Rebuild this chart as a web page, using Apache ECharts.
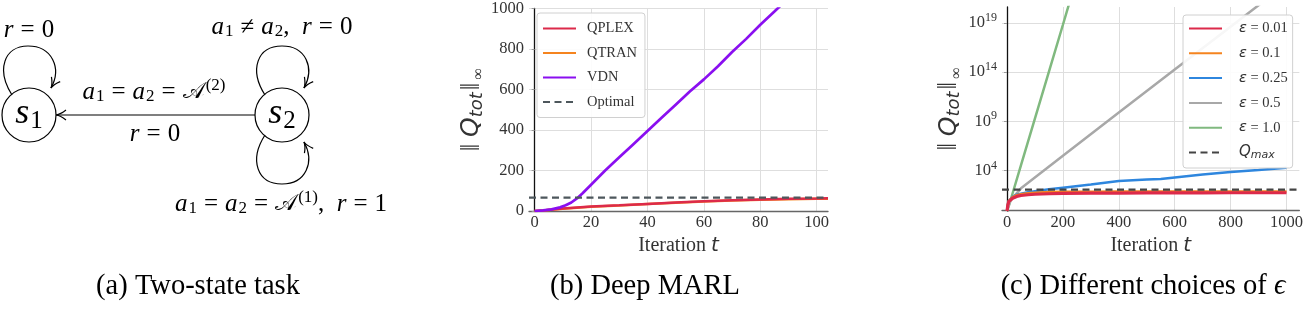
<!DOCTYPE html>
<html>
<head>
<meta charset="utf-8">
<script src="https://cdn.jsdelivr.net/npm/echarts@6/dist/echarts.min.js"></script>
<style>
  html, body { margin: 0; padding: 0; background: #fff; }
  #chart { width: 1306px; height: 310px; }
</style>
</head>
<body>
<div id="chart"></div>
<script>
// (b) Deep MARL
const vdnT = [0, 3, 6, 9, 11, 13, 15, 17, 20, 25, 30, 35, 40, 45, 50, 55, 60, 65, 70, 75, 80, 85, 88];
const vdnQ = [0, 3, 8, 18, 28, 42, 62, 88, 130, 200, 265, 330, 395, 460, 525, 590, 650, 715, 785, 850, 920, 985, 1025];
const marlT = [0, 3, 6, 10, 15, 20, 30, 40, 50, 60, 70, 80, 90, 100, 104];
const qplexQ = [0, 3, 7, 12, 17, 22, 28, 35, 42, 48, 53, 57, 60, 62, 63];
const qtranQ = [0, 3, 6, 11, 16, 21, 27, 34, 41, 47, 52, 55, 58, 60, 60];
const optimalQ = 66;
const marlTicks = [0, 20, 40, 60, 80, 100];

// (c) Different choices of epsilon, values as log10 of ||Q_tot||
const epsT = [0, 3, 6, 10, 20, 35, 50, 75, 100, 150, 200, 300, 400, 500, 550, 600, 700, 800, 900, 1000];
const eps001Log = [-0.1, 0.5, 0.85, 1.0, 1.2, 1.38, 1.47, 1.55, 1.6, 1.65, 1.68, 1.71, 1.72, 1.73, 1.73, 1.74, 1.74, 1.75, 1.75, 1.75];
const eps01Log = [-0.1, 0.55, 0.9, 1.05, 1.3, 1.5, 1.6, 1.7, 1.75, 1.82, 1.85, 1.86, 1.87, 1.87, 1.87, 1.88, 1.88, 1.88, 1.88, 1.88];
const eps025Log = [-0.1, 0.55, 0.9, 1.05, 1.35, 1.55, 1.65, 1.8, 1.9, 2.1, 2.27, 2.6, 2.95, 3.1, 3.15, 3.3, 3.6, 3.85, 4.05, 4.3];
const eps05T = [0, 12, 50, 200, 400, 600, 800, 1000];
const eps05Log = [-0.1, 0.95, 2.2, 5.5, 9.9, 14.25, 18.6, 22.95];
const eps1T = [0, 12, 50, 100, 150, 200, 250];
const eps1Log = [-0.1, 0.94, 4.55, 9.3, 14.05, 18.8, 23.6];
const qmaxLog = 2.06;
const epsTicks = [0, 200, 400, 600, 800, 1000];
const logTicks = [4, 9, 14, 19];

const zip = (xs, ys) => xs.map((x, i) => [x, ys[i]]);

const serif = "'Liberation Serif', 'DejaVu Serif', serif";
const mathSans = "'DejaVu Sans', sans-serif";

const gridColor = '#dedede';
const labelColor = '#333';

function lineSeries(name, xi, data, color, width, extra) {
  return Object.assign({
    name: name,
    type: 'line',
    xAxisIndex: xi,
    yAxisIndex: xi,
    data: data,
    symbol: 'none',
    smooth: false,
    lineStyle: { color: color, width: width },
    itemStyle: { color: color },
    emphasis: { disabled: true },
    silent: true
  }, extra || {});
}

const axisNameRich = {
  bar: { fontFamily: serif, fontSize: 27, color: labelColor },
  q: { fontFamily: mathSans, fontStyle: 'italic', fontSize: 25, color: labelColor },
  s: { fontFamily: mathSans, fontStyle: 'italic', fontSize: 18, color: labelColor, padding: [11, 2, 0, 0] },
  inf: { fontFamily: serif, fontSize: 16, color: labelColor, padding: [15, 0, 0, 3] }
};
const qNorm = '{bar|‖ }{q|Q}{s|tot}{bar|‖}{inf|∞}';

const iterRich = {
  n: { fontFamily: serif, fontSize: 20, color: labelColor },
  t: { fontFamily: mathSans, fontStyle: 'italic', fontSize: 20, color: labelColor }
};

function xAxisCfg(gi, min, max, ticks) {
  return {
    gridIndex: gi, type: 'value', min: min, max: max,
    name: '{n|Iteration }{t|t}', nameLocation: 'middle', nameGap: 19,
    nameTextStyle: { rich: iterRich },
    axisLine: { show: true, lineStyle: { color: '#666', width: 1.3 } },
    axisTick: { show: false, customValues: ticks },
    axisLabel: { customValues: ticks, margin: 3, formatter: v => String(v),
      fontFamily: serif, fontSize: 16.5, color: labelColor },
    splitLine: { show: true, lineStyle: { color: gridColor, width: 1 } }
  };
}

// diagram helpers
const ink = { stroke: '#000', fill: null, lineWidth: 1.2 };
function arrowHead(tx, ty, dx, dy) {
  const L = Math.hypot(dx, dy); dx /= L; dy /= L;
  const px = -dy, py = dx, a = 10, w = 5;
  const arm = s => ({
    type: 'bezierCurve', silent: true,
    shape: {
      x1: tx - a * dx + s * w * px, y1: ty - a * dy + s * w * py,
      cpx1: tx - 0.45 * a * dx + s * 0.12 * w * px, cpy1: ty - 0.45 * a * dy + s * 0.12 * w * py,
      x2: tx, y2: ty
    },
    style: ink
  });
  return [arm(1), arm(-1)];
}
function loop(pts) {
  // two cubic segments: p0 c1 c2 p1 c3 c4 p2
  return [
    { type: 'bezierCurve', silent: true, style: ink,
      shape: { x1: pts[0][0], y1: pts[0][1], cpx1: pts[1][0], cpy1: pts[1][1], cpx2: pts[2][0], cpy2: pts[2][1], x2: pts[3][0], y2: pts[3][1] } },
    { type: 'bezierCurve', silent: true, style: ink,
      shape: { x1: pts[3][0], y1: pts[3][1], cpx1: pts[4][0], cpy1: pts[4][1], cpx2: pts[5][0], cpy2: pts[5][1], x2: pts[6][0], y2: pts[6][1] } }
  ];
}
const mathRich = {
  it: { fontFamily: serif, fontStyle: 'italic', fontSize: 25, color: '#000' },
  rm: { fontFamily: serif, fontSize: 25, color: '#000' },
  eq: { fontFamily: serif, fontSize: 25, color: '#000', padding: [0, 7, 0, 7] },
  sub: { fontFamily: serif, fontSize: 17, color: '#000', padding: [10, 0, 0, 1] },
  sup: { fontFamily: serif, fontSize: 17, color: '#000', padding: [0, 0, 13, 1] },
  cal: { fontFamily: "'DejaVu Serif', 'DejaVu Sans', serif", fontSize: 23, color: '#000' },
  big: { fontFamily: serif, fontStyle: 'italic', fontSize: 36, color: '#000' },
  bigsub: { fontFamily: serif, fontSize: 25, color: '#000', padding: [14, 0, 0, 1] }
};
function mathText(x, y, text) {
  return {
    type: 'text', x: x, y: y, silent: true,
    style: { text: text, rich: mathRich, align: 'center', verticalAlign: 'middle' }
  };
}
function caption(x, text) {
  return {
    type: 'text', x: x, y: 287, silent: true,
    style: { text: text, rich: { e: { fontFamily: serif, fontStyle: 'italic', fontSize: 28.5, color: '#000' } },
      fontFamily: serif, fontSize: 28.5, fill: '#000', align: 'center', verticalAlign: 'middle' }
  };
}

const diagram = [
  { type: 'circle', silent: true, shape: { cx: 29, cy: 115, r: 27 }, style: ink },
  { type: 'circle', silent: true, shape: { cx: 282, cy: 115, r: 27 }, style: ink },
  mathText(29, 114, '{big|s}{bigsub|1}'),
  mathText(282, 114, '{big|s}{bigsub|2}'),
  { type: 'line', silent: true, shape: { x1: 255, y1: 115, x2: 57, y2: 115 }, style: ink },
  ...arrowHead(56, 115, -1, 0),
  ...loop([[12, 95], [-4, 70], [4, 46], [28, 46], [52, 46], [62, 68], [51, 88]]),
  ...arrowHead(51, 88, -11, 20),
  ...loop([[265, 95], [249, 70], [257, 46], [282, 46], [306, 46], [315, 68], [304, 88]]),
  ...arrowHead(304, 88, -11, 20),
  ...loop([[265, 135], [249, 160], [257, 184], [282, 184], [306, 184], [315, 162], [304, 142]]),
  ...arrowHead(304, 142, -11, -20),
  mathText(29, 30, '{it|r}{eq|=}{rm|0}'),
  mathText(154, 92, '{it|a}{sub|1}{eq|=}{it|a}{sub|2}{eq|=}{cal|𝒜}{sup|(2)}'),
  mathText(155, 134, '{it|r}{eq|=}{rm|0}'),
  mathText(282, 27, '{it|a}{sub|1}{eq|≠}{it|a}{sub|2}{rm|,  }{it|r}{eq|=}{rm|0}'),
  mathText(281, 204, '{it|a}{sub|1}{eq|=}{it|a}{sub|2}{eq|=}{cal|𝒜}{sup|(1)}{rm|,  }{it|r}{eq|=}{rm|1}'),
  caption(198, '(a) Two-state task'),
  caption(645, '(b) Deep MARL'),
  caption(1143, '(c) Different choices of {e|ϵ}')
];

const legendBase = {
  orient: 'vertical',
  itemWidth: 33, itemHeight: 12,
  backgroundColor: 'rgba(255,255,255,0.9)', borderColor: '#d0d0d0', borderWidth: 1, borderRadius: 3,
  itemStyle: { opacity: 0 },
  selectedMode: false
};

const chart = echarts.init(document.getElementById('chart'), null, { renderer: 'canvas' });
chart.setOption({
  animation: false,
  backgroundColor: '#fff',
  textStyle: { fontFamily: serif },
  grid: [
    { left: 529, top: 7, width: 299, height: 204, containLabel: false },
    { left: 1002, top: 7, width: 298, height: 204, containLabel: false }
  ],
  xAxis: [
    xAxisCfg(0, -2, 104, marlTicks),
    xAxisCfg(1, -18, 1046, epsTicks)
  ],
  yAxis: [
    {
      gridIndex: 0, type: 'value', min: 0, max: 1000, interval: 200,
      name: qNorm, nameLocation: 'middle', nameGap: 40,
      nameTextStyle: { rich: axisNameRich },
      axisLine: { show: true, lineStyle: { color: '#111', width: 1.3 } },
      axisTick: { show: true, length: 3, lineStyle: { color: '#999' } },
      axisLabel: { margin: 5, formatter: v => String(v), fontFamily: serif, fontSize: 16.5, color: labelColor },
      splitLine: { show: true, lineStyle: { color: gridColor, width: 1 } }
    },
    {
      gridIndex: 1, type: 'value', min: -0.1, max: 20.6,
      name: qNorm, nameLocation: 'middle', nameGap: 36,
      nameTextStyle: { rich: axisNameRich },
      axisLine: { show: true, lineStyle: { color: '#111', width: 1.3 } },
      axisTick: { show: true, length: 3, lineStyle: { color: '#999' }, customValues: logTicks },
      axisLabel: {
        customValues: logTicks, margin: 5,
        formatter: v => '{b|10}{e|' + v + '}',
        rich: {
          b: { fontFamily: serif, fontSize: 16.5, color: labelColor },
          e: { fontFamily: serif, fontSize: 12, color: labelColor, padding: [0, 0, 10, 0] }
        }
      },
      splitLine: { show: true, lineStyle: { color: gridColor, width: 1 } }
    }
  ],
  legend: [
    Object.assign({}, legendBase, {
      data: ['QPLEX', 'QTRAN', 'VDN', 'Optimal'],
      left: 537, top: 13,
      padding: [8, 8, 8, 5],
      itemGap: 9.5,
      textStyle: { fontFamily: serif, fontSize: 14.5, color: labelColor, padding: [0, 0, 0, 6] }
    }),
    Object.assign({}, legendBase, {
      data: ['ε = 0.01', 'ε = 0.1', 'ε = 0.25', 'ε = 0.5', 'ε = 1.0', 'Q_max'],
      left: 1183, top: 15,
      padding: [6, 5, 7, 5],
      itemGap: 9.8,
      formatter: name => name === 'Q_max' ? '{q|Q}{s|max}' : name.replace('ε', '{i|ε}'),
      textStyle: {
        fontFamily: serif, fontSize: 14.5, color: labelColor, padding: [0, 0, 0, 6],
        rich: {
          i: { fontFamily: mathSans, fontStyle: 'italic', fontSize: 14.5, color: labelColor, padding: [0, 0, 0, 6] },
          q: { fontFamily: mathSans, fontStyle: 'italic', fontSize: 15, color: labelColor, padding: [0, 0, 0, 6] },
          s: { fontFamily: mathSans, fontStyle: 'italic', fontSize: 11, color: labelColor, padding: [6, 0, 0, 0] }
        }
      }
    })
  ],
  series: [
    lineSeries('QTRAN', 0, zip(marlT, qtranQ), '#f5841f', 2.5),
    lineSeries('QPLEX', 0, zip(marlT, qplexQ), '#dc2a4a', 2.5),
    lineSeries('VDN', 0, zip(vdnT, vdnQ), '#8a0ff0', 2.7),
    lineSeries('Optimal', 0, [[-2, optimalQ], [104, optimalQ]], '#4d575c', 2.2,
      { lineStyle: { color: '#4d575c', width: 2.2, type: [7, 4.5] } }),

    lineSeries('ε = 1.0', 1, zip(eps1T, eps1Log), '#80b97f', 2.5),
    lineSeries('ε = 0.5', 1, zip(eps05T, eps05Log), '#a8a8a8', 2.5),
    lineSeries('ε = 0.25', 1, zip(epsT, eps025Log), '#2e86de', 2.5),
    lineSeries('ε = 0.1', 1, zip(epsT, eps01Log), '#f5841f', 2.5),
    lineSeries('ε = 0.01', 1, zip(epsT, eps001Log), '#dc2a4a', 3.2),
    lineSeries('Q_max', 1, [[-18, qmaxLog], [1046, qmaxLog]], '#444', 2.2,
      { lineStyle: { color: '#444', width: 2.2, type: [7, 4.5] } })
  ],
  graphic: diagram
});
</script>
</body>
</html>
